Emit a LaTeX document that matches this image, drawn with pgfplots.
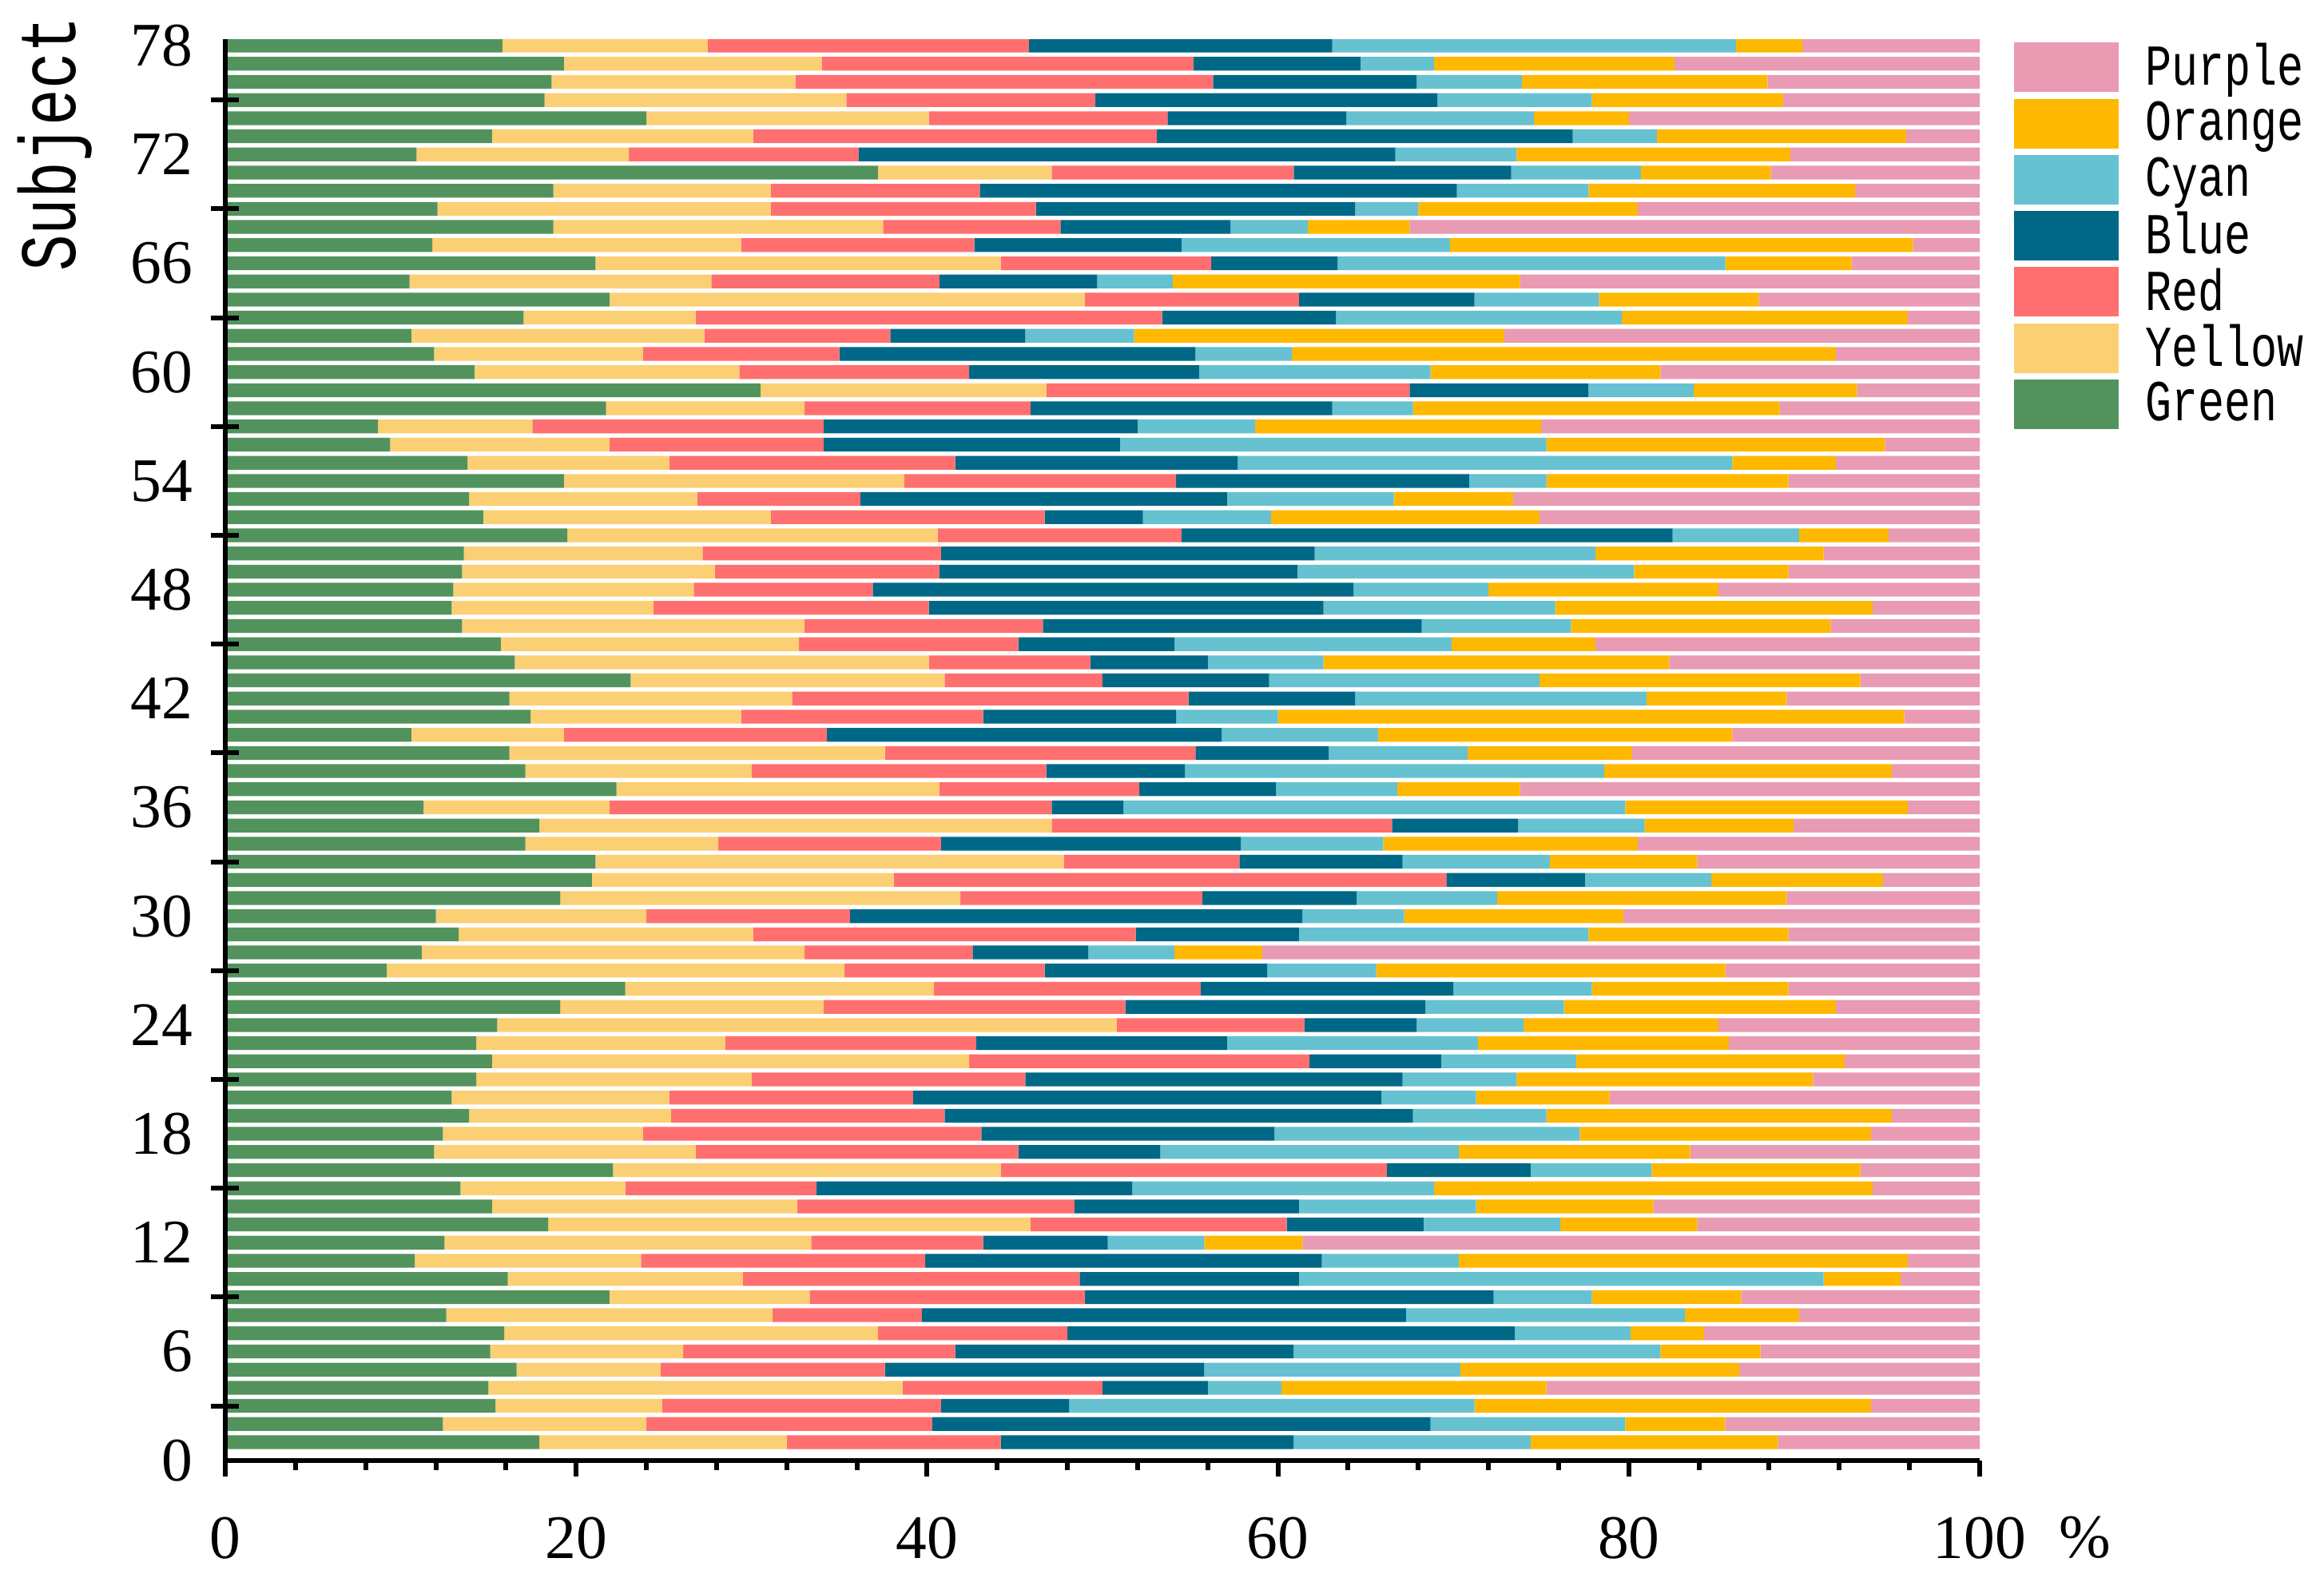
\documentclass[border=0pt]{standalone}
\usepackage{pgfplots}
\pgfplotsset{compat=1.18}
\usepackage{pgfplotstable}
\usepackage{fontspec}
\setmainfont{Liberation Serif}
\newfontfamily\simfont{Liberation Mono}[FakeStretch=0.76]
\definecolor{cG}{HTML}{52935D}
\definecolor{cY}{HTML}{FBCF73}
\definecolor{cR}{HTML}{FF6F6F}
\definecolor{cB}{HTML}{006887}
\definecolor{cC}{HTML}{66C1D0}
\definecolor{cO}{HTML}{FFB800}
\definecolor{cP}{HTML}{E89BB3}
\pgfplotstableread{
S G Y R B C O P
1 17.9 14.1 12.2 16.7 13.5 14.1 11.5
2 12.4 11.6 16.3 28.4 11.1 5.7 14.5
3 15.4 9.5 15.9 7.3 23.1 22.6 6.2
4 15.0 23.6 11.4 6.0 4.2 15.1 24.7
5 16.6 8.2 12.8 18.2 14.6 15.9 13.7
6 15.1 11.0 15.5 19.3 20.9 5.7 12.5
7 15.9 21.3 10.8 25.5 6.6 4.2 15.7
8 12.6 18.6 8.5 27.6 15.9 6.5 10.3
9 21.9 11.4 15.7 23.3 5.6 8.5 13.6
10 16.1 13.4 19.2 12.5 29.9 4.4 4.5
11 10.8 12.9 16.2 22.6 7.8 25.6 4.1
12 12.5 20.9 9.8 7.1 5.5 5.6 38.6
13 18.4 27.5 14.6 7.8 7.8 7.8 16.1
14 15.2 17.4 15.8 12.8 10.1 10.1 18.6
15 13.4 9.4 10.9 18.0 17.2 25.0 6.1
16 22.1 22.1 22.0 8.2 6.9 11.9 6.8
17 11.9 14.9 18.4 8.1 17.0 13.2 16.5
18 12.4 11.4 19.3 16.7 17.4 16.6 6.2
19 13.9 11.5 15.6 26.7 7.6 19.7 5.0
20 12.9 12.4 13.9 26.7 5.4 7.6 21.1
21 14.3 15.7 15.6 21.5 6.5 16.9 9.5
22 15.2 27.2 19.4 7.5 7.7 15.3 7.7
23 14.3 14.2 14.3 14.3 14.3 14.3 14.3
24 15.5 35.3 10.7 6.4 6.1 11.1 14.9
25 19.1 15.0 17.2 17.1 7.9 15.5 8.2
26 22.8 17.6 15.2 14.4 7.9 11.2 10.9
27 9.2 26.1 11.4 12.7 6.2 19.9 14.5
28 11.2 21.8 9.6 6.6 4.9 5.0 40.9
29 13.3 16.8 21.8 9.3 16.5 11.4 10.9
30 12.0 12.0 11.6 25.8 5.8 12.5 20.3
31 19.1 22.8 13.8 8.8 8.0 16.5 11.0
32 20.9 17.2 31.5 7.9 7.2 9.8 5.5
33 21.1 26.7 10.0 9.3 8.4 8.4 16.1
34 17.1 11.0 12.7 17.1 8.1 14.5 19.5
35 17.9 29.2 19.4 7.2 7.2 8.5 10.6
36 11.3 10.6 25.2 4.1 28.6 16.1 4.1
37 22.3 18.4 11.4 7.8 6.9 7.0 26.2
38 17.1 12.9 16.8 7.9 23.9 16.4 5.0
39 16.2 21.4 17.7 7.6 7.9 9.4 19.8
40 10.6 8.7 15.0 22.5 8.9 20.2 14.1
41 17.4 12.0 13.8 11.0 5.8 35.7 4.3
42 16.2 16.1 22.6 9.5 16.6 8.0 11.0
43 23.1 17.9 9.0 9.5 15.4 18.3 6.8
44 16.5 23.6 9.2 6.7 6.6 19.7 17.7
45 15.7 17.0 12.5 8.9 15.8 8.2 21.9
46 13.5 19.5 13.6 21.6 8.5 14.8 8.5
47 12.9 11.5 15.7 22.5 13.2 18.1 6.1
48 13.0 13.7 10.2 27.4 7.7 13.1 14.9
49 13.5 14.4 12.8 20.4 19.2 8.8 10.9
50 13.6 13.6 13.6 21.3 16.0 13.0 8.9
51 19.5 21.1 13.9 28.0 7.2 5.1 5.2
52 14.7 16.4 15.6 5.6 7.3 15.3 25.1
53 13.9 13.0 9.3 20.9 9.5 6.8 26.6
54 19.3 19.4 15.5 16.7 4.4 13.8 10.9
55 13.8 11.5 16.3 16.1 28.2 5.9 8.2
56 9.4 12.5 12.2 16.9 24.3 19.3 5.4
57 8.7 8.8 16.6 17.9 6.7 16.3 25.0
58 21.7 11.3 12.9 17.2 4.6 20.9 11.4
59 30.5 16.3 20.7 10.2 6.0 9.3 7.0
60 14.2 15.1 13.1 13.1 13.2 13.1 18.2
61 11.9 11.9 11.2 20.3 5.5 31.0 8.2
62 10.6 16.7 10.6 7.7 6.2 21.1 27.1
63 17.0 9.8 26.6 9.9 16.3 16.3 4.1
64 21.9 27.1 12.2 10.0 7.1 9.1 12.6
65 10.5 17.2 13.0 9.0 4.3 19.8 26.2
66 21.1 23.1 12.0 7.2 22.1 7.2 7.3
67 11.8 17.6 13.3 11.8 15.3 26.4 3.8
68 18.7 18.8 10.1 9.7 4.4 5.8 32.5
69 12.1 19.0 15.1 18.2 3.6 12.5 19.5
70 18.7 12.4 11.9 27.2 7.5 15.2 7.1
71 37.2 9.9 13.8 12.4 7.4 7.4 11.9
72 10.9 12.1 13.1 30.6 6.9 15.6 10.8
73 15.2 14.9 23.0 23.7 4.8 14.2 4.2
74 24.0 16.1 13.6 10.2 10.7 5.4 20.0
75 18.2 17.2 14.2 19.5 8.8 10.9 11.2
76 18.6 13.9 23.8 11.6 6.0 14.0 12.1
77 19.3 14.7 21.2 9.5 4.2 13.7 17.4
78 15.8 11.7 18.3 17.3 23.0 3.8 10.1
}\data
\begin{document}
\begin{tikzpicture}
\path[use as bounding box] (-56.4pt,-30.46pt) rectangle (525.4pt,365.54pt);
\begin{axis}[
  at={(0pt,0pt)}, anchor=south west,
  scale only axis, width=439.2pt, height=355.7pt,
  xbar stacked, bar width=0.76,
  xmin=0, xmax=100, ymin=0, ymax=78.35,
  enlargelimits=false,
  axis on top,
  axis x line*=bottom, axis y line*=left,
  xtick pos=left, ytick pos=left,
  xtick={0,20,...,100}, minor x tick num=4,
  ytick={0,6,...,78}, minor ytick={3,9,...,75},
  tick align=outside,
  major tick length=4pt, minor tick length=7pt,
  axis line style={line width=1.2pt, -},
  tick style={line width=1.2pt, black},
  major y tick style={draw=none},
  minor y tick style={xshift=3.5pt},
  minor x tick style={dash pattern=on 0pt off 4.6pt on 10pt},
  tick label style={font=\fontsize{15.5}{16}\selectfont},
  /pgf/number format/assume math mode=true,
  yticklabel style={inner sep=0pt, xshift=-4pt},
  xticklabel style={inner sep=0pt, yshift=-10pt},
  xlabel={\%}, ylabel={Subject},
  every axis x label/.style={at={([xshift=26.4pt,yshift=-19.3pt]rel axis cs:1,0)}, anchor=center, font=\fontsize{15.5}{16}\selectfont},
  every axis y label/.style={at={([xshift=-37.4pt]rel axis cs:0,0.9264)}, rotate=90, anchor=base, font=\simfont\fontsize{20}{20}\selectfont},
  legend style={at={(rel axis cs:1,1)}, anchor=north west, xshift=8.6pt, draw=none, fill=none, inner sep=0pt, outer sep=0pt, row sep=0pt, column sep=6.6pt, font=\simfont\fontsize{14.5}{14.5}\selectfont, nodes={inner sep=0pt, minimum height=14.06pt}},
  legend cell align=left, reverse legend,
  legend image code/.code={\fill[#1] (0pt,-6.2pt) rectangle (26.2pt,6.2pt);},
  legend entries={Green,Yellow,Red,Blue,Cyan,Orange,Purple},
]
\addplot[fill=cG, draw=none] table[x=G, y=S] {\data};
\addplot[fill=cY, draw=none] table[x=Y, y=S] {\data};
\addplot[fill=cR, draw=none] table[x=R, y=S] {\data};
\addplot[fill=cB, draw=none] table[x=B, y=S] {\data};
\addplot[fill=cC, draw=none] table[x=C, y=S] {\data};
\addplot[fill=cO, draw=none] table[x=O, y=S] {\data};
\addplot[fill=cP, draw=none] table[x=P, y=S] {\data};
\end{axis}
\end{tikzpicture}
\end{document}
